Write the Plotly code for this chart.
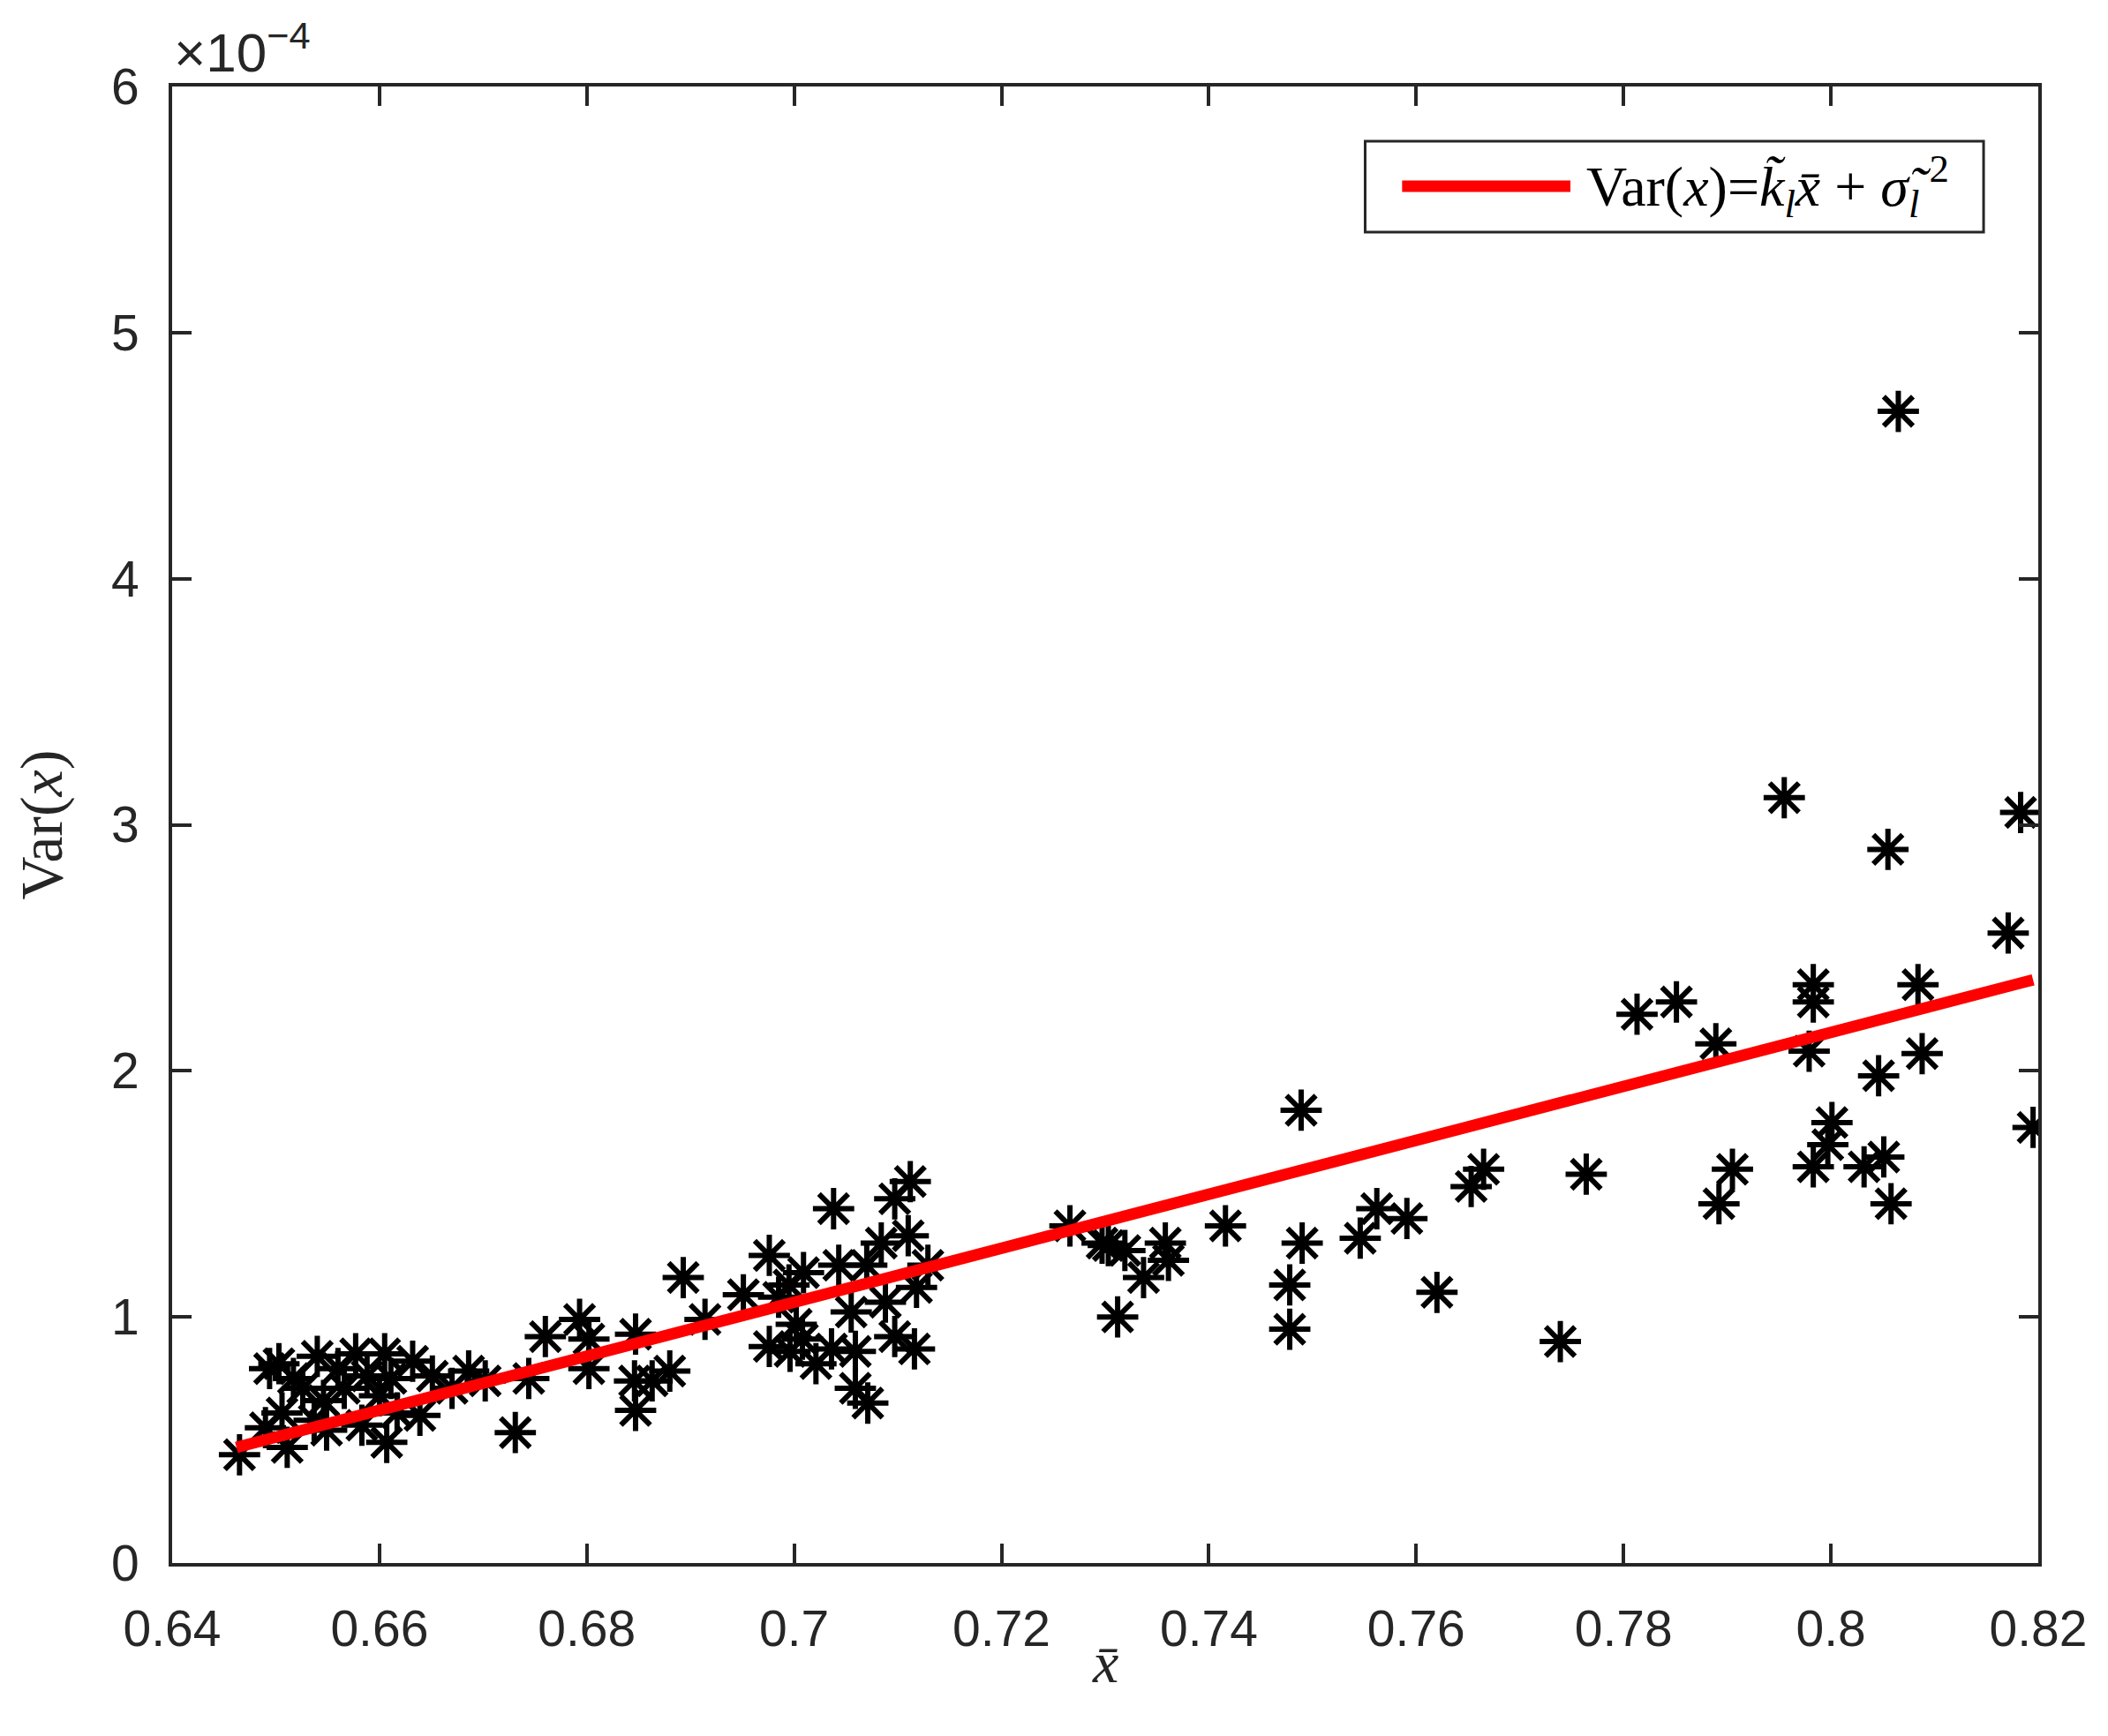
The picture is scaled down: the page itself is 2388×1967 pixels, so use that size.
import plotly.graph_objects as go

# sample mean vs. sample variance (variance in units of 1e-4)
x_bar = [
    0.6465, 0.6511, 0.6607, 0.6731, 0.6639, 0.6490, 0.6506, 0.6494, 0.6503, 0.6540,
    0.6577, 0.6605, 0.6632, 0.6526, 0.6546, 0.6566, 0.6588, 0.6600, 0.6617, 0.6583,
    0.6549, 0.6537, 0.6670, 0.6686, 0.6702, 0.6744, 0.6760, 0.6793, 0.6802, 0.6802,
    0.6651, 0.6611, 0.6560, 0.6517,
    0.6847, 0.6847, 0.6846, 0.6863, 0.6880, 0.6893, 0.6914, 0.6951, 0.6976, 0.6976,
    0.6985, 0.7009, 0.7002, 0.7008, 0.6996, 0.7021, 0.7038, 0.7043, 0.7036, 0.7055,
    0.7059, 0.7059, 0.7071, 0.7084, 0.7097, 0.7112, 0.7110, 0.7129, 0.7118, 0.7088,
    0.7097, 0.7116, 0.7070, 0.6995,
    0.7266, 0.7297, 0.7303, 0.7319, 0.7337, 0.7312, 0.7358, 0.7361, 0.7416, 0.7490,
    0.7478, 0.7478, 0.7546, 0.7562, 0.7591, 0.7620, 0.7653, 0.7665, 0.7489, 0.7739,
    0.7764,
    0.7813, 0.7851, 0.7889, 0.7983, 0.7983, 0.7979, 0.8084, 0.8088, 0.8046, 0.8195,
    0.8001, 0.7997, 0.7983, 0.8032, 0.8051, 0.8058, 0.7905, 0.7892,
    0.8171, 0.8065, 0.7955, 0.8183, 0.8055,
]
var_x = [
    0.44, 0.47, 0.49, 0.53, 0.60, 0.55, 0.61, 0.79, 0.81, 0.84,
    0.85, 0.85, 0.82, 0.71, 0.66, 0.71, 0.76, 0.68, 0.61, 0.56,
    0.54, 0.58, 0.71, 0.78, 0.74, 0.75, 0.92, 0.99, 0.91, 0.79,
    0.76, 0.75, 0.79, 0.75,
    0.93, 0.62, 0.74, 0.74, 0.78, 1.16, 0.99, 1.09, 1.25, 0.88,
    1.08, 1.18, 0.97, 0.91, 0.86, 0.81, 1.44, 1.21, 0.87, 1.02,
    0.86, 0.71, 0.65, 1.30, 1.48, 1.55, 1.33, 1.21, 1.12, 1.06,
    0.92, 0.87, 1.21, 1.13,
    1.37, 1.30, 1.29, 1.27, 1.16, 1.00, 1.30, 1.23, 1.37, 1.30,
    1.13, 0.95, 1.32, 1.44, 1.40, 1.10, 1.53, 1.60, 1.84, 0.90,
    1.58,
    2.23, 2.28, 2.11, 2.35, 2.28, 2.08, 2.35, 2.07, 1.98, 1.77,
    1.79, 1.70, 1.61, 1.61, 1.65, 1.46, 1.60, 1.46,
    2.56, 4.68, 3.11, 3.05, 2.90,
]

# fitted line Var(x) = k*x_bar + sigma^2
fit_x = [0.6462, 0.8195]
fit_y = [0.47, 2.37]

x_ticks = [0.64, 0.66, 0.68, 0.70, 0.72, 0.74, 0.76, 0.78, 0.80, 0.82]
x_tick_text = ['0.64', '0.66', '0.68', '0.7', '0.72', '0.74', '0.76', '0.78', '0.8', '0.82']
y_ticks = [0, 1, 2, 3, 4, 5, 6]

axis_col = '#262626'
tick_font = dict(family='Liberation Sans, Arial', size=57, color=axis_col)
serif = 'Liberation Serif, Times New Roman, serif'

fig = go.Figure()
fig.add_trace(go.Scatter(x=x_bar, y=var_x, mode='markers',
                         marker=dict(symbol='asterisk-open', size=39, color='black',
                                     line=dict(color='black', width=6)),
                         showlegend=False))
fig.add_trace(go.Scatter(x=fit_x, y=fit_y, mode='lines',
                         line=dict(color='#ff0000', width=13),
                         showlegend=False))

axis_common = dict(showgrid=False, zeroline=False, showline=True, linecolor=axis_col,
                   linewidth=4, mirror='ticks', ticks='inside', ticklen=22, tickwidth=4,
                   tickcolor=axis_col, tickfont=tick_font)

fig.update_xaxes(range=[0.64, 0.82], tickvals=x_ticks, ticktext=x_tick_text,
                 ticklabelstandoff=22, **axis_common)
fig.update_yaxes(range=[0, 6], tickvals=y_ticks, ticklabelstandoff=22,
                 title=dict(text='Var(<i>x</i>)', font=dict(family=serif, size=68, color=axis_col),
                            standoff=34),
                 **axis_common)

# x axis label
fig.add_annotation(xref='paper', yref='paper', x=0.5, y=0.0, xanchor='center', yanchor='middle',
                   yshift=-112, showarrow=False, text='<i>x̄</i>',
                   font=dict(family=serif, size=66, color=axis_col))

# legend box drawn by hand so the line sample is as long as in the original
fig.add_shape(type='rect', xref='paper', yref='paper', x0=0.6393, x1=0.9707, y0=0.9014, y1=0.963,
              line=dict(color=axis_col, width=3), fillcolor='white', layer='above')
fig.add_shape(type='line', xref='paper', yref='paper', x0=0.6591, x1=0.7493, y0=0.9325, y1=0.9325,
              line=dict(color='#ff0000', width=13), layer='above')
fig.add_annotation(xref='paper', yref='paper', x=0.757, y=0.9325, xanchor='left', yanchor='middle',
                   showarrow=False,
                   text='Var(<i>x</i>)=<i>k̃</i><sub><i>l</i></sub><i>x̄</i> + <i>σ̃</i><sub><i>l</i></sub><sup> 2</sup>',
                   font=dict(family=serif, size=64, color='black'))

# exponent label
fig.add_annotation(xref='paper', yref='paper', x=0.0, y=1.0, xanchor='left', yanchor='bottom',
                   yshift=2, showarrow=False, text='×10<sup>−4</sup>',
                   font=dict(family='Liberation Sans, Arial', size=62, color=axis_col))

fig.update_layout(width=2388, height=1967, plot_bgcolor='white', paper_bgcolor='white',
                  margin=dict(l=187, r=87, t=90, b=204))

fig.write_html('out.html')
